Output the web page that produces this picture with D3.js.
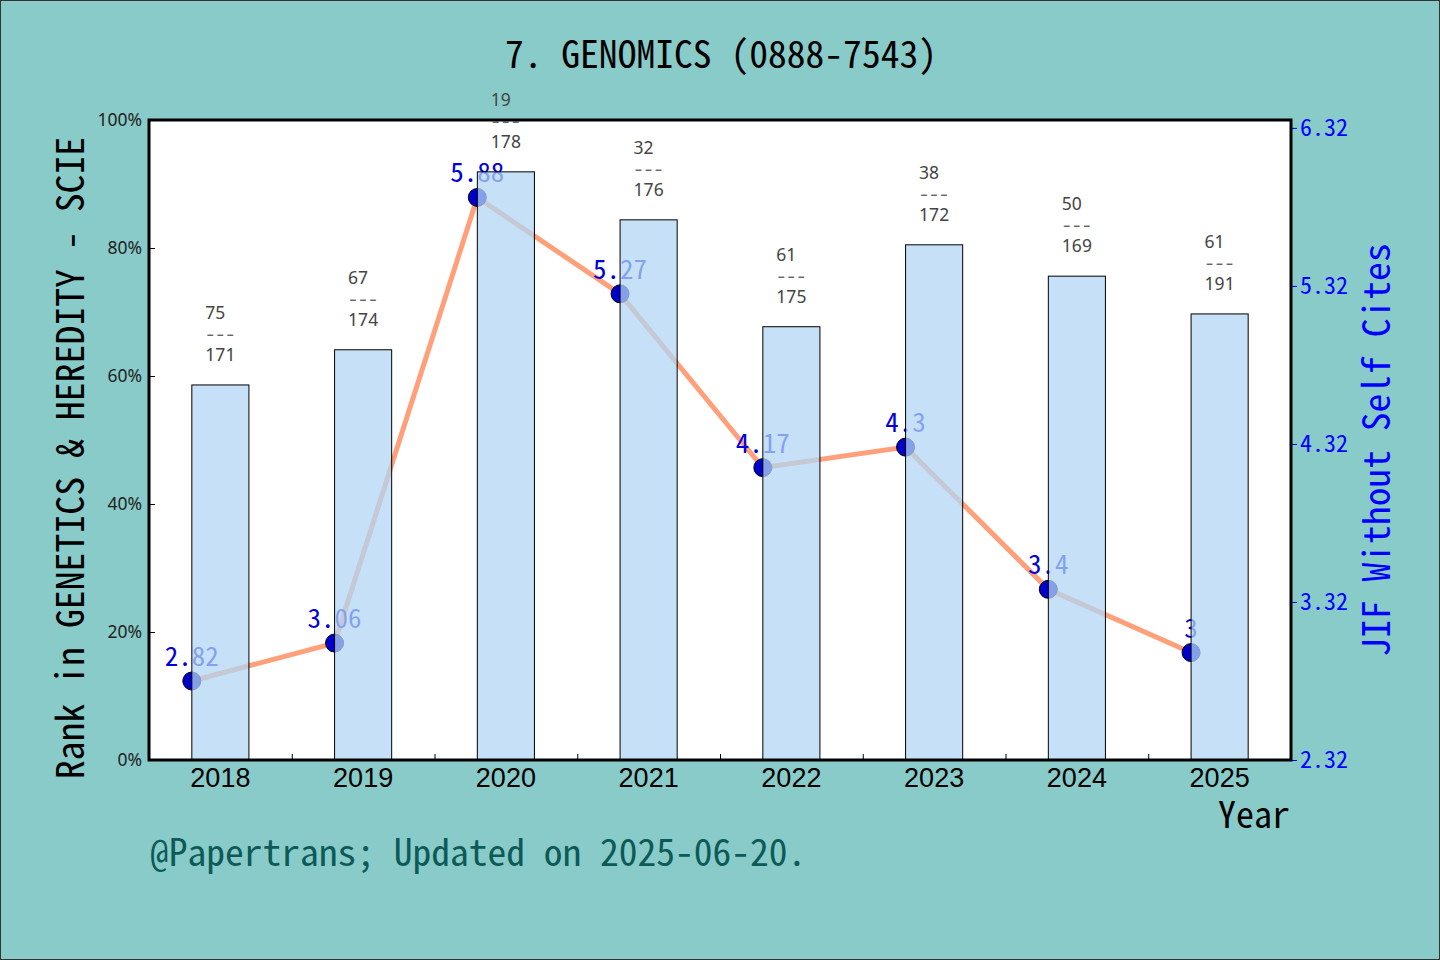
<!DOCTYPE html>
<html>
<head>
	<meta charset="utf-8">
	<title>7. GENOMICS (0888-7543)</title>
	<script src="https://d3js.org/d3.v7.min.js"></script>
	<style>
		body { margin: 0; background: #88cbc9; }
	</style>
</head>
<body>
	<div class="chart"></div>

	<script type="text/javascript">

		var years = ['2018', '2019', '2020', '2021', '2022', '2023', '2024', '2025']
		var rankPct = [58.6, 64.1, 91.9, 84.4, 67.7, 80.5, 75.6, 69.7]
		var ranks = [75, 67, 19, 32, 61, 38, 50, 61]
		var totals = [171, 174, 178, 176, 175, 172, 169, 191]
		var jif = [2.82, 3.06, 5.88, 5.27, 4.17, 4.3, 3.4, 3]
		var jifLabels = ['2.82', '3.06', '5.88', '5.27', '4.17', '4.3', '3.4', '3']
		var pctTicks = [0, 20, 40, 60, 80, 100]
		var jifTicks = [2.32, 3.32, 4.32, 5.32, 6.32]

		var width = 1440
		var height = 960
		var pLeft = 149, pRight = 1291, pTop = 120, pBottom = 760
		var mono = '"Noto Sans Mono CJK SC", "DejaVu Sans Mono", monospace'
		var sans = '"Noto Sans", sans-serif'

		// 画布
		var svg = d3
			.select('.chart')
			.append('svg')
			.attr('width', width)
			.attr('height', height)
			.style('display', 'block')

		svg.append('rect')
			.attr('x', 0.5).attr('y', 0.5)
			.attr('width', width - 1).attr('height', height - 1)
			.attr('fill', '#88cbc9')
			.attr('stroke', '#333')

		svg.append('rect')
			.attr('x', pLeft).attr('y', pTop)
			.attr('width', pRight - pLeft).attr('height', pBottom - pTop)
			.attr('fill', '#fff')

		// 比例尺
		var xScale = d3.scaleBand().domain(years).range([pLeft, pRight])
		var barW = xScale.bandwidth() * 0.4
		var yLeft = d3.scaleLinear().domain([0, 100]).range([pBottom, pTop])
		var yRight = d3.scaleLinear().domain([2.32, 6.37]).range([pBottom, pTop])
		var cx = (d) => xScale(d) + xScale.bandwidth() / 2
		var px = (d) => cx(d) - barW / 2

		var pts = years.map((y, i) => ({ year: y, v: jif[i], label: jifLabels[i] }))

		// 折线
		svg.append('path')
			.datum(pts)
			.attr('fill', 'none')
			.attr('stroke', '#ffa07a')
			.attr('stroke-width', 5)
			.attr('d', d3.line().x((d) => px(d.year)).y((d) => yRight(d.v)))

		svg.append('g')
			.selectAll('circle')
			.data(pts)
			.enter()
			.append('circle')
			.attr('cx', (d) => px(d.year))
			.attr('cy', (d) => yRight(d.v))
			.attr('r', 9)
			.attr('fill', '#0000cd')
			.attr('stroke', '#000')
			.attr('stroke-width', 1)

		svg.append('g')
			.selectAll('text')
			.data(pts)
			.enter()
			.append('text')
			.attr('x', (d) => px(d.year))
			.attr('y', (d) => yRight(d.v) - 15)
			.attr('text-anchor', 'middle')
			.style('font-family', mono)
			.style('font-size', '27px')
			.attr('fill', '#0000dc')
			.text((d) => d.label)

		// 柱子
		svg.append('g')
			.selectAll('rect')
			.data(rankPct)
			.enter()
			.append('rect')
			.attr('x', (d, i) => cx(years[i]) - barW / 2)
			.attr('y', (d) => yLeft(d))
			.attr('width', barW)
			.attr('height', (d) => pBottom - yLeft(d))
			.attr('fill', 'rgb(177,213,244)')
			.attr('fill-opacity', 0.75)
			.attr('stroke', '#000')
			.attr('stroke-width', 1)

		// 排名标签
		var rankG = svg.append('g')
			.selectAll('g')
			.data(rankPct)
			.enter()
			.append('g')

		rankG.each(function (d, i) {
			var g = d3.select(this)
			var yt = yLeft(d)
			var lines = [
				{ t: ranks[i], dy: -66, c: '#444', f: sans, s: '17.5px' },
				{ t: '---', dy: -44, c: '#666', f: mono, s: '20px' },
				{ t: totals[i], dy: -24, c: '#444', f: sans, s: '17.5px' }
			]
			var texts = g.selectAll('text').data(lines).enter().append('text')
				.attr('y', (l) => yt + l.dy)
				.attr('fill', (l) => l.c)
				.style('font-family', (l) => l.f)
				.style('font-size', (l) => l.s)
				.text((l) => l.t)
			var w = d3.max(texts.nodes(), (n) => n.getComputedTextLength())
			texts.attr('x', cx(years[i]) - w / 2)
		})

		// 坐标轴
		var axL = svg.append('g')
			.attr('transform', `translate(${pLeft}, 0)`)
			.call(d3.axisLeft(yLeft).tickValues(pctTicks).tickSize(-6).tickPadding(7).tickFormat((d) => d + '%'))
		axL.select('.domain').remove()
		axL.selectAll('text').style('font-family', sans).style('font-size', '17.5px').attr('fill', '#222')

		var axR = svg.append('g')
			.attr('transform', `translate(${pRight}, 0)`)
			.call(d3.axisRight(yRight).tickValues(jifTicks).tickSize(6).tickPadding(3).tickFormat(d3.format('.2f')))
		axR.select('.domain').remove()
		axR.selectAll('line').attr('stroke', '#0000ff')
		axR.selectAll('text').style('font-family', mono).style('font-size', '24px').attr('fill', '#0000ff')

		var axB = svg.append('g')
			.attr('transform', `translate(0, ${pBottom})`)
			.call(d3.axisBottom(xScale).tickSize(0).tickPadding(8))
		axB.select('.domain').remove()
		axB.selectAll('text').style('font-family', '"Liberation Sans", Arial, sans-serif').style('font-size', '27px').attr('fill', '#000')

		var minor = d3.scaleLinear().domain([0, years.length]).range([pLeft, pRight])
		var axM = svg.append('g')
			.attr('transform', `translate(0, ${pBottom})`)
			.call(d3.axisBottom(minor).tickValues(d3.range(1, years.length)).tickSize(-6).tickFormat(''))
		axM.select('.domain').remove()

		// 边框
		svg.append('rect')
			.attr('x', pLeft).attr('y', pTop)
			.attr('width', pRight - pLeft).attr('height', pBottom - pTop)
			.attr('fill', 'none')
			.attr('stroke', '#000')
			.attr('stroke-width', 3)

		// 文字
		svg.append('text')
			.attr('x', 721).attr('y', 68)
			.attr('text-anchor', 'middle')
			.style('font-family', mono).style('font-size', '37.6px')
			.text('7. GENOMICS (0888-7543)')

		svg.append('text')
			.attr('transform', 'translate(67, 458) rotate(-90)')
			.attr('text-anchor', 'middle')
			.attr('dominant-baseline', 'central')
			.style('font-family', mono).style('font-size', '37.8px')
			.text('Rank in GENETICS & HEREDITY - SCIE')

		svg.append('text')
			.attr('transform', 'translate(1373, 450) rotate(-90)')
			.attr('text-anchor', 'middle')
			.attr('dominant-baseline', 'central')
			.style('font-family', mono).style('font-size', '37.6px')
			.attr('fill', '#0000ff')
			.text('JIF Without Self Cites')

		svg.append('text')
			.attr('x', 1290).attr('y', 828)
			.attr('text-anchor', 'end')
			.style('font-family', mono).style('font-size', '36px')
			.text('Year')

		svg.append('text')
			.attr('x', 150).attr('y', 866)
			.style('font-family', mono).style('font-size', '37.5px')
			.attr('fill', '#0d5a57')
			.text('@Papertrans; Updated on 2025-06-20.')

	</script>
</body>
</html>
